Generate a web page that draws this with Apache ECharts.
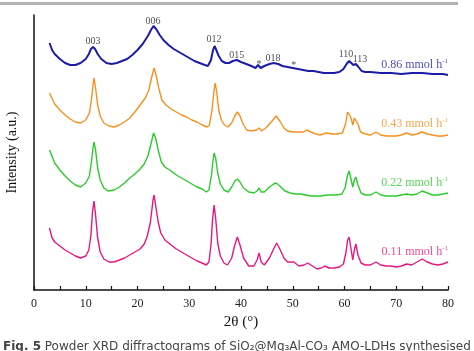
<!DOCTYPE html>
<html><head><meta charset="utf-8">
<script src="https://cdn.jsdelivr.net/npm/echarts@6/dist/echarts.min.js"></script>
<style>html,body{margin:0;padding:0;background:#fff}#c{width:474px;height:351px}</style>
</head><body><div id="c"></div>
<script>
// 2θ (°) vs offset intensity (a.u.)
const s086 = [[3,247],[3.5,240],[4,236],[5,231],[6,227],[7,225],[8,225],[9,227],[10,231],[10.6,236],[11,241],[11.4,243],[11.8,241],[12.3,236],[13,231],[14,227],[15,226],[16,227],[17,229],[18,231],[19,235],[20,240],[21,246],[22,254],[22.6,260],[23.1,264],[23.6,261],[24.3,255],[25,250],[26,245],[27,241],[28,238],[29,235],[30,232],[31,229],[32,227],[33,225],[33.6,224],[34.2,230],[34.6,240],[34.9,244],[35.2,242],[35.7,234],[36.3,229],[37,227],[37.7,227],[38.4,229],[39.2,230],[40,228],[41,226],[42,224],[42.8,222],[43.3,225],[43.8,222],[44.5,224],[45.5,226],[46.3,227],[47.2,226],[48,224],[49,223],[50,222],[50.3,223],[51,221],[52,220],[53,219],[54,219],[55,218],[56,217],[57,217],[58,217],[59,218],[59.8,221],[60.4,226],[60.9,229],[61.3,227],[61.7,225],[62.2,226],[62.7,223],[63.3,219],[64,218],[65,218],[67,217],[69,217],[71,216],[73,217],[75,217],[77,216],[79,216],[80,215]];
const s043 = [[3,197],[4,186],[5,180],[6,175],[7,171],[8,168],[9,167],[10,170],[10.7,177],[11.1,190],[11.4,205],[11.6,212],[11.9,202],[12.3,185],[12.8,174],[13.5,167],[14.5,164],[15.5,163],[16.5,165],[17.5,168],[18.5,172],[19.5,178],[20.5,185],[21.5,192],[22.2,200],[22.7,212],[23.2,222],[23.6,215],[24.1,202],[24.7,190],[25.5,185],[26.5,181],[27.5,178],[28.5,175],[29.5,173],[30.5,170],[31.5,168],[32.5,165],[33.4,163],[33.9,165],[34.4,180],[34.8,200],[35,207],[35.3,198],[35.7,180],[36.2,170],[36.8,165],[37.5,163],[38.2,167],[38.8,174],[39.3,178],[39.8,174],[40.4,166],[41.1,160],[42,159],[43,160],[43.5,162],[44,159],[45,163],[46,169],[46.8,174],[47.5,169],[48.3,162],[49,159],[50,158],[51,158],[52,158],[52.7,160],[53.5,158],[54.5,156],[55.3,155],[56.5,157],[57.5,156],[58.5,156],[59.6,157],[60.2,166],[60.6,178],[60.9,180],[61.2,173],[61.6,165],[61.9,172],[62.2,174],[62.6,166],[63.1,158],[64,156],[65,155],[66.1,158],[67,155],[68,154],[69,154],[70,154],[71,155],[72,157],[73,155],[74,156],[75,158],[76,156],[77,155],[78,154],[79,154],[80,155]];
const s022 = [[3,140],[4,127],[5,120],[6,114],[7,109],[8,105],[9,103],[10,107],[10.7,114],[11.1,128],[11.4,142],[11.6,148],[11.9,140],[12.3,122],[12.8,110],[13.5,102],[14.3,99],[15.5,100],[16.5,103],[17.5,107],[18.5,112],[19.5,116],[20.5,121],[21.3,126],[22,134],[22.6,146],[23.1,157],[23.5,152],[24,140],[24.6,128],[25.3,123],[26.5,119],[27.5,115],[28.5,112],[29.5,109],[30.5,106],[31.5,103],[32.5,101],[33.3,98],[33.8,100],[34.3,115],[34.6,130],[34.8,137],[35.1,132],[35.5,117],[36,106],[36.7,100],[37.5,98],[38.2,103],[38.8,109],[39.3,111],[39.8,108],[40.5,102],[41.5,98],[42.5,97],[43.1,99],[43.5,102],[43.9,98],[44.5,98],[45.5,103],[46.3,106],[46.8,107],[47.5,104],[48.5,99],[49.5,97],[50.5,96],[51.5,96],[52.5,95],[53.5,94],[54.5,94],[55.5,94],[56.5,95],[57.5,95],[58.5,95],[59.5,96],[60.1,102],[60.6,115],[60.9,119],[61.2,112],[61.6,103],[61.9,110],[62.2,113],[62.6,105],[63.2,97],[64,95],[65,95],[66.1,98],[67,95],[68,94],[69,94],[70,94],[71,95],[72,96],[73,95],[74,96],[75,99],[76,97],[77,95],[78,95],[79,96],[80,97]];
const s011 = [[3,62],[3.5,52],[4,48],[5,44],[6,40],[7,37],[8,34],[9,32],[10,34],[10.6,40],[11,55],[11.3,78],[11.6,89],[11.9,75],[12.3,52],[12.8,38],[13.5,31],[14.5,28],[15.5,28],[16.5,30],[17.5,32],[18.5,35],[19.5,38],[20.5,41],[21.3,46],[21.9,54],[22.5,68],[23,90],[23.2,95],[23.5,85],[24,68],[24.5,57],[25.3,50],[26.5,45],[27.5,41],[28.5,38],[29.5,35],[30.5,32],[31.5,29],[32.5,27],[33.3,25],[33.8,28],[34.2,45],[34.5,70],[34.8,85],[35.1,72],[35.5,47],[36,34],[36.7,27],[37.4,25],[38.2,32],[38.8,45],[39.3,53],[39.8,45],[40.5,32],[41.5,24],[42.5,24],[43.1,30],[43.5,37],[43.9,28],[44.5,25],[45.5,32],[46.3,41],[46.9,47],[47.5,41],[48.3,32],[49,28],[50.2,28],[51.2,24],[52.2,25],[52.9,27],[53.8,24],[54.7,21],[55.5,22],[56.2,24],[57,22],[58,22],[59,23],[59.8,26],[60.3,38],[60.6,50],[60.9,53],[61.2,43],[61.6,30],[61.9,40],[62.2,46],[62.6,35],[63.2,27],[64,25],[65,25],[66.1,28],[67,25],[68,24],[69,24],[70,23],[71,24],[72,26],[73,25],[74,28],[75,31],[76,28],[77,26],[78,25],[79,26],[80,28]];

const seriesNames = ['0.86', '0.43', '0.22', '0.11'];
const seriesColors = ['#1c1ca8', '#f7901e', '#2bcc2b', '#e6187f'];
const seriesLabelY = [225, 166, 107, 38];

const hklText = ['003', '006', '012', '015', '*', '018', '*', '110', '113'];
const hklX = [11.4, 23.0, 34.8, 39.2, 43.5, 46.2, 50.2, 60.3, 63.0];
const hklY = [249, 269, 251, 235, 226, 232, 225, 236, 231];

const xTicks = [0, 10, 20, 30, 40, 50, 60, 70, 80];

const serif = '"Liberation Serif", "DejaVu Serif", serif';
const data = [s086, s043, s022, s011];
const chart = echarts.init(document.getElementById('c'), null, {renderer: 'canvas'});

const series = data.map((d, i) => ({
  type: 'line', data: d, showSymbol: false, symbol: 'none', silent: true,
  lineStyle: {color: seriesColors[i], width: i === 0 ? 2 : 1.4}, z: 2
}));
series.push({
  type: 'scatter', symbolSize: 0, silent: true,
  data: seriesNames.map((n, i) => ({value: [80, seriesLabelY[i]], name: n})),
  label: {
    show: true, position: 'left', distance: 0,
    formatter: p => '{a|' + p.name + ' mmol h}{s|-1}',
    rich: {
      a: {fontFamily: serif, fontSize: 12},
      s: {fontFamily: serif, fontSize: 7, padding: [0, 0, 7, 0]}
    },
    color: 'inherit'
  },
  itemStyle: {color: p => seriesColors[p.dataIndex]}
});
series.push({
  type: 'scatter', symbolSize: 0, silent: true,
  data: hklText.map((t, i) => ({value: [hklX[i], hklY[i]], name: t})),
  label: {show: true, position: 'inside', formatter: p => p.name,
    fontFamily: serif, fontSize: 10, color: '#222'}
});

chart.setOption({
  animation: false,
  backgroundColor: '#fff',
  grid: {left: 34, right: 26, top: 15, bottom: 61, containLabel: false, outerBoundsMode: 'none'},
  xAxis: {
    type: 'value', min: 0, max: 80, interval: 5,
    name: '2θ (°)', nameLocation: 'middle', nameGap: 21,
    nameTextStyle: {fontFamily: serif, fontSize: 15, color: '#111'},
    axisLine: {show: true, onZero: false, lineStyle: {color: '#111', width: 1.5}},
    axisTick: {show: true, inside: true, length: 4, lineStyle: {color: '#111', width: 1.2}},
    axisLabel: {fontFamily: serif, fontSize: 12, color: '#222', margin: 8,
      formatter: v => xTicks.indexOf(v) >= 0 ? String(v) : ''},
    splitLine: {show: false}
  },
  yAxis: {
    type: 'value', min: 0, max: 275,
    name: 'Intensity (a.u.)', nameLocation: 'middle', nameGap: 15,
    nameTextStyle: {fontFamily: serif, fontSize: 14, color: '#111'},
    axisLine: {show: true, lineStyle: {color: '#111', width: 1.5}},
    axisTick: {show: false}, axisLabel: {show: false}, splitLine: {show: false}
  },
  graphic: [
    {type: 'rect', shape: {x: 0, y: 2, width: 458, height: 3}, style: {fill: '#b3b3b3'}},
    {type: 'text', left: 3, top: 341, style: {
      text: '{b|Fig. 5} Powder XRD diffractograms of SiO₂@Mg₃Al-CO₃ AMO-LDHs synthesised a three',
      font: '12px "DejaVu Sans", sans-serif', fill: '#444',
      rich: {b: {font: 'bold 12px "DejaVu Sans", sans-serif', fill: '#444'}}
    }}
  ],
  series: series
});
</script></body></html>
